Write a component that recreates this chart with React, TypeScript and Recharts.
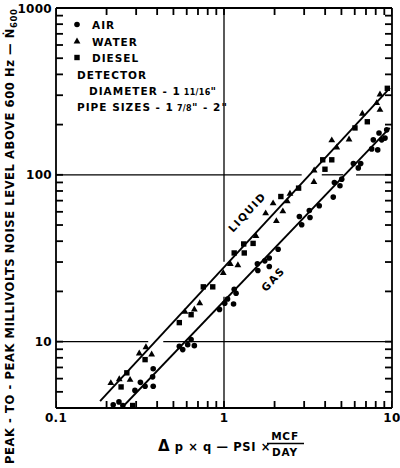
import React from 'react'
import { ScatterChart, Scatter, XAxis, YAxis, ReferenceLine } from 'recharts'

// tick positions (log axes) and which of them carry a label
const xTicks = [0.1, 0.2, 0.3, 0.4, 0.5, 0.6, 0.7, 0.8, 0.9, 1, 2, 3, 4, 5, 6, 7, 8, 9, 10]
const yTicks = [4, 5, 6, 7, 8, 9, 10, 20, 30, 40, 50, 60, 70, 80, 90, 100, 200, 300, 400, 500, 600, 700, 800, 900, 1000]
const xLabels = ['0.1', '1', '10']
const yLabels = ['10', '100', '1000']

// measured points: Δp × q (x) vs peak-to-peak noise (y)
const air = [
  { x: 0.219, y: 4.18 }, { x: 0.237, y: 4.35 }, { x: 0.25, y: 4.14 }, { x: 0.295, y: 5.1 },
  { x: 0.318, y: 5.7 }, { x: 0.339, y: 5.4 }, { x: 0.379, y: 5.4 }, { x: 0.376, y: 6.15 },
  { x: 0.379, y: 6.87 }, { x: 0.542, y: 9.37 }, { x: 0.568, y: 8.96 }, { x: 0.608, y: 9.59 },
  { x: 0.637, y: 10.3 }, { x: 0.666, y: 9.46 }, { x: 0.94, y: 15.6 }, { x: 1.01, y: 17.0 },
  { x: 1.05, y: 18.0 }, { x: 1.14, y: 16.8 }, { x: 1.15, y: 20.6 }, { x: 1.18, y: 19.5 },
  { x: 1.58, y: 29.3 }, { x: 1.59, y: 26.7 }, { x: 1.75, y: 30.5 }, { x: 1.86, y: 31.7 },
  { x: 1.86, y: 28.2 }, { x: 2.1, y: 35.8 }, { x: 2.81, y: 56.2 }, { x: 2.9, y: 50.2 },
  { x: 3.25, y: 55.5 }, { x: 3.22, y: 61.1 }, { x: 3.69, y: 65.2 }, { x: 4.47, y: 73.5 },
  { x: 4.54, y: 89.9 }, { x: 4.9, y: 85.9 }, { x: 5.02, y: 94.2 }, { x: 5.89, y: 117 },
  { x: 6.3, y: 110 }, { x: 6.51, y: 117 }, { x: 7.57, y: 143 }, { x: 7.74, y: 162 },
  { x: 8.22, y: 141 }, { x: 8.37, y: 178 }, { x: 8.68, y: 162 }, { x: 9.3, y: 186 },
  { x: 9.09, y: 166 },
]
const water = [
  { x: 0.212, y: 5.68 }, { x: 0.238, y: 6.0 }, { x: 0.276, y: 5.94 }, { x: 0.313, y: 8.56 },
  { x: 0.343, y: 9.33 }, { x: 0.371, y: 8.44 }, { x: 0.586, y: 15.2 }, { x: 0.666, y: 15.7 },
  { x: 0.717, y: 17.1 }, { x: 0.99, y: 26.0 }, { x: 1.09, y: 29.4 }, { x: 1.21, y: 28.9 },
  { x: 1.55, y: 43.2 }, { x: 1.77, y: 59.2 }, { x: 2.05, y: 53.2 }, { x: 1.96, y: 67.9 },
  { x: 2.24, y: 60.8 }, { x: 2.38, y: 69.8 }, { x: 2.47, y: 77.6 }, { x: 3.43, y: 91.2 },
  { x: 3.44, y: 107 }, { x: 4.38, y: 162 }, { x: 4.69, y: 147 }, { x: 5.55, y: 164 },
  { x: 6.66, y: 234 }, { x: 8.11, y: 271 }, { x: 8.48, y: 305 }, { x: 8.48, y: 247 },
]
const diesel = [
  { x: 0.244, y: 5.35 }, { x: 0.264, y: 6.5 }, { x: 0.286, y: 4.14 }, { x: 0.339, y: 7.8 },
  { x: 0.542, y: 13.0 }, { x: 0.637, y: 14.5 }, { x: 0.753, y: 21.3 }, { x: 0.857, y: 21.3 },
  { x: 1.15, y: 34.0 }, { x: 1.32, y: 34.0 }, { x: 1.31, y: 38.5 }, { x: 1.49, y: 38.8 },
  { x: 2.18, y: 74.1 }, { x: 2.78, y: 83.2 }, { x: 3.87, y: 123 }, { x: 4.38, y: 123 },
  { x: 3.99, y: 108 }, { x: 6.02, y: 191 }, { x: 7.13, y: 208 }, { x: 9.38, y: 330 },
]

// fitted lines (end points)
const liquidFit = [{ x: 0.183, y: 4.4 }, { x: 9.73, y: 332 }]
const gasFit = [{ x: 0.246, y: 4.0 }, { x: 9.7, y: 191 }]

// grid lines, drawn in pieces with the gaps of the original
const grid100 = [[0.1, 2.9], [3.82, 5.13], [6.11, 10]]
const grid10 = [[0.1, 0.354], [0.435, 10]]
const grid1 = [[4, 18.6], [30.1, 1000]]

const X_MIN = 0.1, X_MAX = 10, Y_MIN = 4, Y_MAX = 1000

const FONT = '"DejaVu Sans", sans-serif'
const INK = '#000'
const TICK = 7
const TICK_W = 1.8

const gridPieces = [
  ...grid100.map(([a, b]) => [{ x: a, y: 100 }, { x: b, y: 100 }]),
  ...grid10.map(([a, b]) => [{ x: a, y: 10 }, { x: b, y: 10 }]),
  ...grid1.map(([a, b]) => [{ x: 1, y: a }, { x: 1, y: b }]),
]
// tick anchors on the four edges of the frame
const bottomEdge = xTicks.map((t) => ({ x: t, y: Y_MIN }))
const topEdge = xTicks.map((t) => ({ x: t, y: Y_MAX }))
const leftEdge = yTicks.map((t) => ({ x: X_MIN, y: t }))
const rightEdge = yTicks.map((t) => ({ x: X_MAX, y: t }))

const Dot = (p: any) => <circle cx={p.cx} cy={p.cy} r={2.8} fill={INK} />
const Tri = (p: any) => (
  <polygon points={`${p.cx},${p.cy - 3.4} ${p.cx + 3.4},${p.cy + 2.5} ${p.cx - 3.4},${p.cy + 2.5}`} fill={INK} />
)
const Sq = (p: any) => <rect x={p.cx - 2.7} y={p.cy - 2.7} width={5.4} height={5.4} fill={INK} />
const NoShape = () => <g />

// tick marks as thin filled bars pointing into the plot
const TickUp = (p: any) => <rect x={p.cx - TICK_W / 2} y={p.cy - TICK} width={TICK_W} height={TICK} fill={INK} />
const TickDown = (p: any) => <rect x={p.cx - TICK_W / 2} y={p.cy} width={TICK_W} height={TICK} fill={INK} />
const TickRight = (p: any) => <rect x={p.cx} y={p.cy - TICK_W / 2} width={TICK} height={TICK_W} fill={INK} />
const TickLeft = (p: any) => <rect x={p.cx - TICK} y={p.cy - TICK_W / 2} width={TICK} height={TICK_W} fill={INK} />

const tickText = { fontFamily: FONT, fontWeight: 700, fontSize: 12, fill: INK, letterSpacing: 0.3 }

const BottomLabel = ({ x, y, payload }: any) => {
  const label = String(payload.value)
  if (!xLabels.includes(label)) return <g />
  return <text x={x} y={y + 14} textAnchor="middle" style={tickText}>{label}</text>
}
const LeftLabel = ({ x, y, payload }: any) => {
  const label = String(payload.value)
  if (!yLabels.includes(label)) return <g />
  return <text x={x - 4} y={y + 4.5} textAnchor="end" style={tickText}>{label}</text>
}

const axisLine = { stroke: INK, strokeWidth: 1.8 }
const txt = { fontFamily: FONT, fontWeight: 700, fill: INK }

export default function App() {
  return (
    <div style={{ position: 'absolute', left: 0, top: 0, width: 400, height: 468, background: '#fff' }}>
      <ScatterChart width={400} height={468} margin={{ top: 8, right: 8, bottom: 0, left: 0 }}>
        <XAxis dataKey="x" type="number" scale="log" domain={[X_MIN, X_MAX]} allowDataOverflow ticks={xTicks}
          interval={0} tickSize={0} tickMargin={0} height={60} axisLine={axisLine} tickLine={false} tick={<BottomLabel />} />
        <YAxis dataKey="y" type="number" scale="log" domain={[Y_MIN, Y_MAX]} allowDataOverflow ticks={yTicks}
          interval={0} tickSize={0} tickMargin={0} width={56} axisLine={axisLine} tickLine={false} tick={<LeftLabel />} />

        {/* top and right edges of the frame */}
        <ReferenceLine y={Y_MAX} stroke={INK} strokeWidth={1.8} ifOverflow="visible" />
        <ReferenceLine x={X_MAX} stroke={INK} strokeWidth={1.8} ifOverflow="visible" />

        {gridPieces.map((piece, i) => (
          <Scatter key={`grid-${i}`} data={piece} line={{ stroke: INK, strokeWidth: 1.3 }}
            shape={<NoShape />} isAnimationActive={false} />
        ))}

        {/* inward tick marks on all four sides */}
        <Scatter data={bottomEdge} shape={<TickUp />} isAnimationActive={false} />
        <Scatter data={topEdge} shape={<TickDown />} isAnimationActive={false} />
        <Scatter data={leftEdge} shape={<TickRight />} isAnimationActive={false} />
        <Scatter data={rightEdge} shape={<TickLeft />} isAnimationActive={false} />

        <Scatter name="Liquid" data={liquidFit} line={{ stroke: INK, strokeWidth: 1.9 }}
          shape={<NoShape />} isAnimationActive={false} />
        <Scatter name="Gas" data={gasFit} line={{ stroke: INK, strokeWidth: 1.9 }}
          shape={<NoShape />} isAnimationActive={false} />
        <Scatter name="Air" data={air} shape={<Dot />} isAnimationActive={false} />
        <Scatter name="Water" data={water} shape={<Tri />} isAnimationActive={false} />
        <Scatter name="Diesel" data={diesel} shape={<Sq />} isAnimationActive={false} />
      </ScatterChart>

      <svg width={400} height={468} style={{ position: 'absolute', left: 0, top: 0, pointerEvents: 'none' }}>
        {/* legend */}
        <circle cx={77} cy={24.5} r={2.8} fill={INK} />
        <polygon points="77,37.6 80.4,43.5 73.6,43.5" fill={INK} />
        <rect x={74.3} y={54.8} width={5.4} height={5.4} fill={INK} />
        <g style={{ ...txt, fontSize: 10.5, letterSpacing: 1 }}>
          <text x={92} y={28.5}>AIR</text>
          <text x={92} y={45.5}>WATER</text>
          <text x={92} y={62}>DIESEL</text>
          <text x={77} y={79}>DETECTOR</text>
          <text x={89} y={95}>DIAMETER - 1<tspan fontSize={8} letterSpacing={0.3}> 11/16</tspan>"</text>
          <text x={77} y={111}>PIPE SIZES - 1<tspan fontSize={8} letterSpacing={0.3}> 7/8</tspan>" - 2"</text>
        </g>

        {/* line labels */}
        <text transform="translate(247,212) rotate(-47)" textAnchor="middle" y={4} style={{ ...txt, fontSize: 10.5, letterSpacing: 1.5 }}>LIQUID</text>
        <text transform="translate(273,279) rotate(-47)" textAnchor="middle" y={4} style={{ ...txt, fontSize: 10.5, letterSpacing: 1.5 }}>GAS</text>

        {/* x axis title */}
        <text x={158} y={451} style={{ ...txt, fontSize: 11.5, letterSpacing: 0.6 }}>
          <tspan fontSize={15}>Δ</tspan> p × q — PSI ×
        </text>
        <text x={285} y={440} textAnchor="middle" style={{ ...txt, fontSize: 10.5, letterSpacing: 0.8 }}>MCF</text>
        <line x1={267} x2={304} y1={443.5} y2={443.5} stroke={INK} strokeWidth={1.4} />
        <text x={285} y={455.5} textAnchor="middle" style={{ ...txt, fontSize: 10.5, letterSpacing: 0.8 }}>DAY</text>

        {/* y axis title */}
        <text transform="translate(14,236.5) rotate(-90)" textAnchor="middle" textLength={455} lengthAdjust="spacing"
          style={{ ...txt, fontSize: 11.5 }}>
          PEAK - TO - PEAK MILLIVOLTS NOISE LEVEL ABOVE 600 Hz — Ṅ<tspan dy={3} fontSize={8.5}>600</tspan>
        </text>
      </svg>
    </div>
  )
}
